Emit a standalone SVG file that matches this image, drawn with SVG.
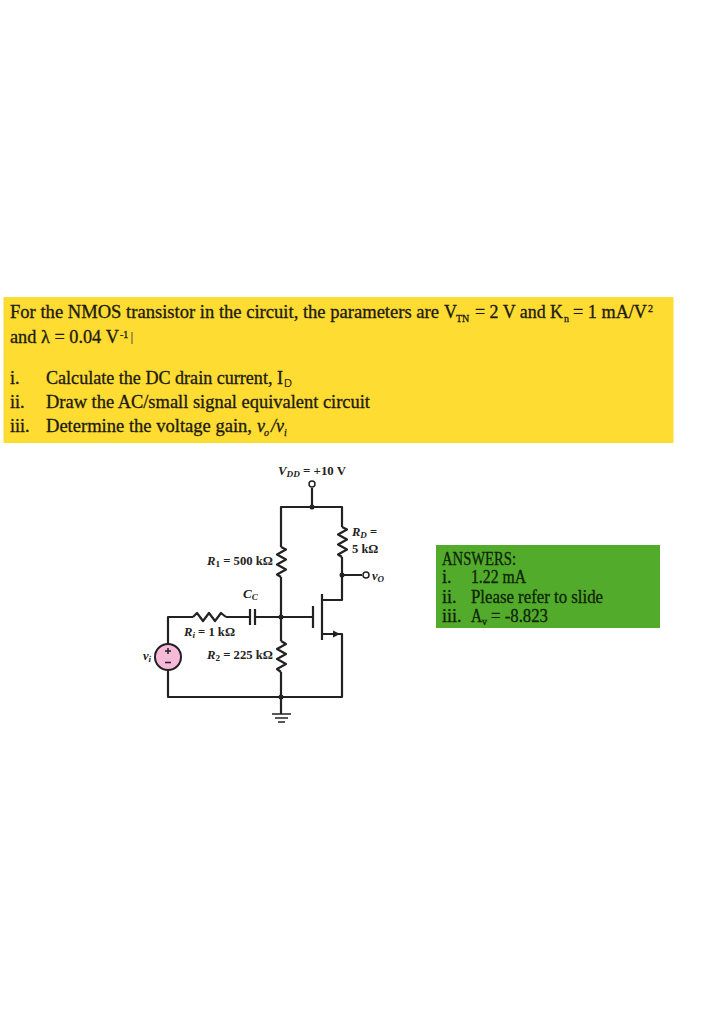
<svg xmlns="http://www.w3.org/2000/svg" width="724" height="1024" viewBox="0 0 724 1024">
<style>
.t{font-family:"Liberation Serif","DejaVu Serif",serif;font-size:18px;fill:#1c1a10;stroke:#1c1a10;stroke-width:.3px}
.b{font-size:10px}
.a{fill:#0f2408;stroke:#0f2408}
.s{font-family:"Liberation Sans",Arial,sans-serif}
.c{font-family:"Liberation Serif",serif;font-size:12.500px;font-weight:bold;fill:#222}
.i{font-style:italic}
.w{fill:none;stroke:#222;stroke-width:2.200;stroke-linejoin:round}
.d{fill:#222}
</style>
<rect width="724" height="1024" fill="#fff"/>
<g id="question">
<rect x="3.500" y="297" width="670" height="146" fill="#fedc32"/>
<text class="t" x="10" y="318" textLength="429" lengthAdjust="spacingAndGlyphs">For the NMOS transistor in the circuit, the parameters are</text>
<text class="t" x="444" y="318">V</text><text class="t b" x="456" y="322" style="font-size:10px">TN</text>
<text class="t" x="475" y="318" textLength="88" lengthAdjust="spacingAndGlyphs">= 2 V and K</text><text class="t" x="564" y="322" style="font-size:10px">n</text>
<text class="t" x="573" y="318" textLength="74" lengthAdjust="spacingAndGlyphs">= 1 mA/V</text><text class="t" x="648" y="312" style="font-size:10px">2</text>
<text class="t" x="10" y="343" textLength="109" lengthAdjust="spacingAndGlyphs">and λ = 0.04 V</text><text class="t" x="120" y="338" style="font-size:10px">-1</text>
<path d="M132 332V344" stroke="#555" stroke-width="1"/>
<text class="t" x="10" y="384">i.</text>
<text class="t" x="46" y="384" textLength="237" lengthAdjust="spacingAndGlyphs">Calculate the DC drain current, I</text><text class="s" x="284" y="387" font-size="11" fill="#1c1a10">D</text>
<text class="t" x="10" y="408">ii.</text>
<text class="t" x="46" y="408" textLength="324" lengthAdjust="spacingAndGlyphs">Draw the AC/small signal equivalent circuit</text>
<text class="t" x="10" y="432">iii.</text>
<text class="t" x="46" y="432" textLength="206" lengthAdjust="spacingAndGlyphs">Determine the voltage gain,</text>
<text class="t i" x="257" y="432">v</text><text class="t i" x="264" y="436" style="font-size:10px">o</text><text class="t i" x="271" y="432">/v</text><text class="t i" x="284" y="436" style="font-size:10px">i</text>
</g>
<g id="answers">
<rect x="436" y="545" width="224" height="83" fill="#52ab2b"/>
<text class="t a" x="442" y="565" textLength="74" lengthAdjust="spacingAndGlyphs">ANSWERS:</text>
<text class="t a" x="442" y="583">i.</text><text class="t a" x="471" y="583" textLength="55" lengthAdjust="spacingAndGlyphs">1.22 mA</text>
<text class="t a" x="442" y="603">ii.</text><text class="t a" x="471" y="603" textLength="132" lengthAdjust="spacingAndGlyphs">Please refer to slide</text>
<text class="t a" x="442" y="622">iii.</text><text class="t a" x="471" y="622" textLength="11" lengthAdjust="spacingAndGlyphs">A</text><text class="t a" x="482" y="625" style="font-size:10px">v</text><text class="t a" x="491" y="622" textLength="57" lengthAdjust="spacingAndGlyphs">= -8.823</text>
</g>
<g id="connectors">
<path class="w" d="M312 488V507M281 547V507H342V527M342 557V600H323M342 575H362M281 577V641M281 672V714"/>
<path class="w" d="M193 617H168V644M168 670V697H342V634H323"/>
<path class="w" d="M226 617H250M255 617H313"/>
</g>
<g id="vdd-terminal"><circle cx="312" cy="484" r="3" fill="#fff" stroke="#222" stroke-width="1.500"/><circle class="d" cx="312" cy="507" r="2.500"/>
<text class="c" x="278" y="475" textLength="68" lengthAdjust="spacingAndGlyphs"><tspan class="i">V</tspan><tspan class="i" font-size="9" dy="2">DD</tspan><tspan dy="-2"> = +10 V</tspan></text></g>
<g id="rd"><path class="w" d="M342 527L347 529.500L338 534.500L347 539.500L338 544.500L347 549.500L338 554.500L342 557"/>
<text class="c" x="352" y="536"><tspan class="i">R</tspan><tspan class="i" font-size="9" dy="2">D</tspan><tspan dy="-2"> =</tspan></text><text class="c" x="352" y="553">5 kΩ</text></g>
<g id="r1"><path class="w" d="M281 547L286 549.500L277 554.500L286 559.500L277 564.500L286 569.500L277 574.500L281 577"/>
<text class="c" x="207" y="565" textLength="66" lengthAdjust="spacingAndGlyphs"><tspan class="i">R</tspan><tspan font-size="9" dy="2">1</tspan><tspan dy="-2"> = 500 kΩ</tspan></text></g>
<g id="vo-terminal"><circle class="d" cx="342" cy="575" r="2.500"/><circle cx="366" cy="575" r="3" fill="#fff" stroke="#222" stroke-width="1.500"/>
<text class="c i" x="372" y="580">v<tspan font-size="9" dy="2">O</tspan></text></g>
<g id="ri"><path class="w" d="M193 617L197 613L203 621L209 613L215 621L221 613L226 617"/>
<text class="c" x="184" y="636" textLength="51" lengthAdjust="spacingAndGlyphs"><tspan class="i">R</tspan><tspan class="i" font-size="9" dy="2">i</tspan><tspan dy="-2"> = 1 kΩ</tspan></text></g>
<g id="cc"><path class="w" d="M250 609V625M255 609V625"/>
<text class="c i" x="243" y="598" style="font-size:13px">C<tspan font-size="9" dy="2">C</tspan></text></g>
<g id="source"><circle cx="168" cy="657" r="13" fill="#f6b9d8" stroke="#222" stroke-width="2"/>
<path d="M165 651H171M168 648V654M165 662.500H171" stroke="#222" stroke-width="1.500" fill="none"/>
<text class="c i" x="143" y="660">v<tspan font-size="9" dy="2">i</tspan></text></g>
<g id="r2"><path class="w" d="M281 641L286 644L277 649L286 654L277 659L286 664L277 669L281 672"/>
<text class="c" x="207" y="659" textLength="66" lengthAdjust="spacingAndGlyphs"><tspan class="i">R</tspan><tspan font-size="9" dy="2">2</tspan><tspan dy="-2"> = 225 kΩ</tspan></text></g>
<g id="transistor"><path class="w" d="M313 606V628M322 594V640"/>
<path class="d" d="M340 634L333 630.500V637.500Z"/><circle class="d" cx="281" cy="617" r="2.500"/></g>
<g id="ground"><circle class="d" cx="281" cy="697" r="2.500"/>
<path d="M272 714H291M275 718H288M278 722H285" stroke="#222" stroke-width="1.500" fill="none"/></g>
</svg>
